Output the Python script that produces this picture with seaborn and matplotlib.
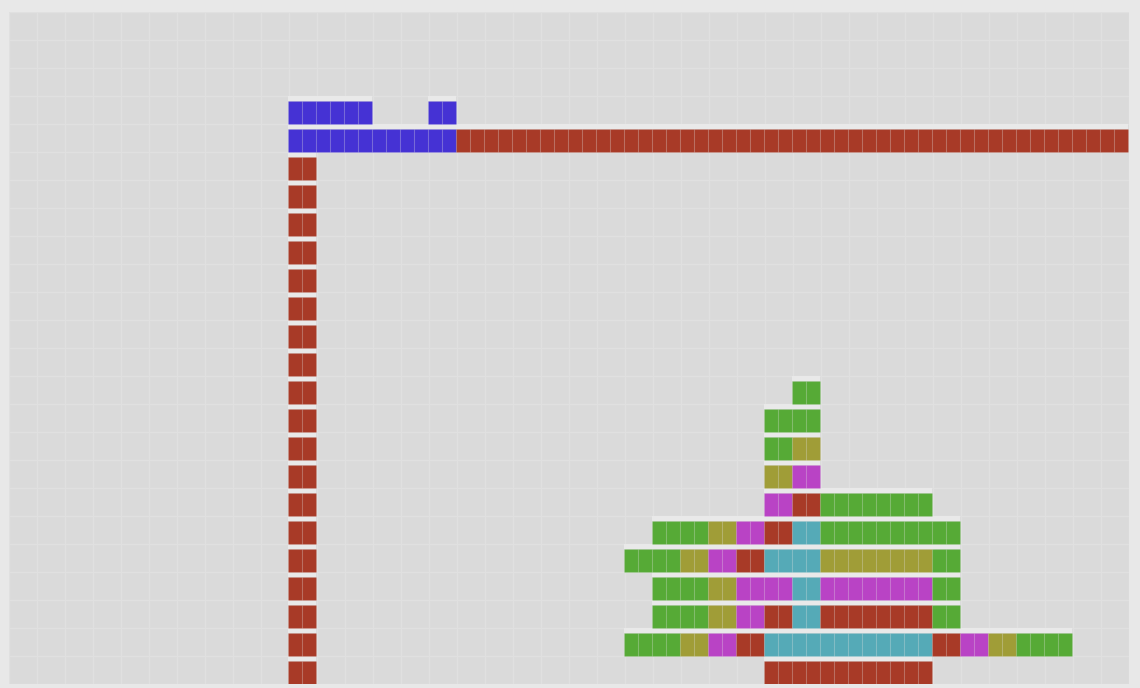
"""
Block chart: horizontal runs of unit cells on a grey grid.
Saved to out.png (1140x688).
"""

import numpy as np
import pandas as pd
import matplotlib
matplotlib.use('Agg')
import matplotlib.pyplot as plt
import seaborn as sns

# ── data ─────────────────────────────────────────────────────────────────────

N_ROWS = 24
N_COLS = 80

PALETTE = {
    'blue':    '#4532d4',
    'red':     '#a83a27',
    'green':   '#56aa36',
    'olive':   '#a09d37',
    'magenta': '#b943c5',
    'teal':    '#55aab7',
}

# top cap
cap_row   = [3, 3, 4, 4]
cap_start = [20, 30, 20, 32]
cap_len   = [6, 2, 12, 48]
cap_cat   = ['blue', 'blue', 'blue', 'red']

# left stem, one red pair per row
stem_row = [5, 6, 7, 8, 9, 10, 11, 12, 13, 14, 15, 16, 17, 18, 19, 20, 21, 22, 23]
stem_start = [20] * len(stem_row)
stem_len = [2] * len(stem_row)
stem_cat = ['red'] * len(stem_row)

# right block
blk_row = [13,
           14,
           15, 15,
           16, 16,
           17, 17, 17,
           18, 18, 18, 18, 18, 18,
           19, 19, 19, 19, 19, 19, 19,
           20, 20, 20, 20, 20, 20,
           21, 21, 21, 21, 21, 21, 21,
           22, 22, 22, 22, 22, 22, 22, 22, 22,
           23]
blk_start = [56,
             54,
             54, 56,
             54, 56,
             54, 56, 58,
             46, 50, 52, 54, 56, 58,
             44, 48, 50, 52, 54, 58, 66,
             46, 50, 52, 56, 58, 66,
             46, 50, 52, 54, 56, 58, 66,
             44, 48, 50, 52, 54, 66, 68, 70, 72,
             54]
blk_len = [2,
           4,
           2, 2,
           2, 2,
           2, 2, 8,
           4, 2, 2, 2, 2, 10,
           4, 2, 2, 2, 4, 8, 2,
           4, 2, 4, 2, 8, 2,
           4, 2, 2, 2, 2, 8, 2,
           4, 2, 2, 2, 12, 2, 2, 2, 4,
           12]
blk_cat = ['green',
           'green',
           'green', 'olive',
           'olive', 'magenta',
           'magenta', 'red', 'green',
           'green', 'olive', 'magenta', 'red', 'teal', 'green',
           'green', 'olive', 'magenta', 'red', 'teal', 'olive', 'green',
           'green', 'olive', 'magenta', 'teal', 'magenta', 'green',
           'green', 'olive', 'magenta', 'red', 'teal', 'red', 'green',
           'green', 'olive', 'magenta', 'red', 'teal', 'red', 'magenta', 'olive', 'green',
           'red']

segs = pd.DataFrame({
    'row':   cap_row + stem_row + blk_row,
    'start': cap_start + stem_start + blk_start,
    'len':   cap_len + stem_len + blk_len,
    'cat':   cap_cat + stem_cat + blk_cat,
})

# one record per unit cell
cells = segs.loc[segs.index.repeat(segs['len'])].copy()
cells['x'] = cells['start'] + cells.groupby(level=0).cumcount()
cells = cells.reset_index(drop=True)

# ── style ────────────────────────────────────────────────────────────────────

sns.set_theme(style='darkgrid', rc={
    'axes.facecolor': '#dadada',
    'figure.facecolor': '#e8e8e8',
    'grid.color': '#e0e0e0',
    'grid.linewidth': 1.0,
})

W, H = 1140, 688
fig = plt.figure(figsize=(W / 100, H / 100), dpi=100)
ax = fig.add_axes([9 / W, 4 / H, 1120 / W, 672 / H])
ax.set_axisbelow(True)

BAR_H = 0.82        # coloured part of a row
BAND_H = 1 - BAR_H  # light strip on top

# light strip above every run
ax.barh(segs['row'] - 0.5 + BAND_H / 2, segs['len'], left=segs['start'] - 0.05,
        height=BAND_H, color='#e9e9e9', linewidth=0, zorder=2)

# unit cells
ax.barh(cells['row'] + BAND_H / 2, 1, left=cells['x'] - 0.05, height=BAR_H,
        color=cells['cat'].map(PALETTE), edgecolor=(1, 1, 1, 0.07),
        linewidth=0.9, zorder=3)

ax.set_xlim(0, N_COLS)
ax.set_ylim(N_ROWS - 0.5, -0.5)
ax.set_xticks(np.arange(0, N_COLS + 1, 2))
ax.set_yticks(np.arange(-0.5, N_ROWS, 1))
ax.tick_params(length=0, labelbottom=False, labelleft=False)
ax.set_xlabel('')
ax.set_ylabel('')
sns.despine(ax=ax, left=True, bottom=True)

fig.savefig('out.png', dpi=100, facecolor=fig.get_facecolor())
